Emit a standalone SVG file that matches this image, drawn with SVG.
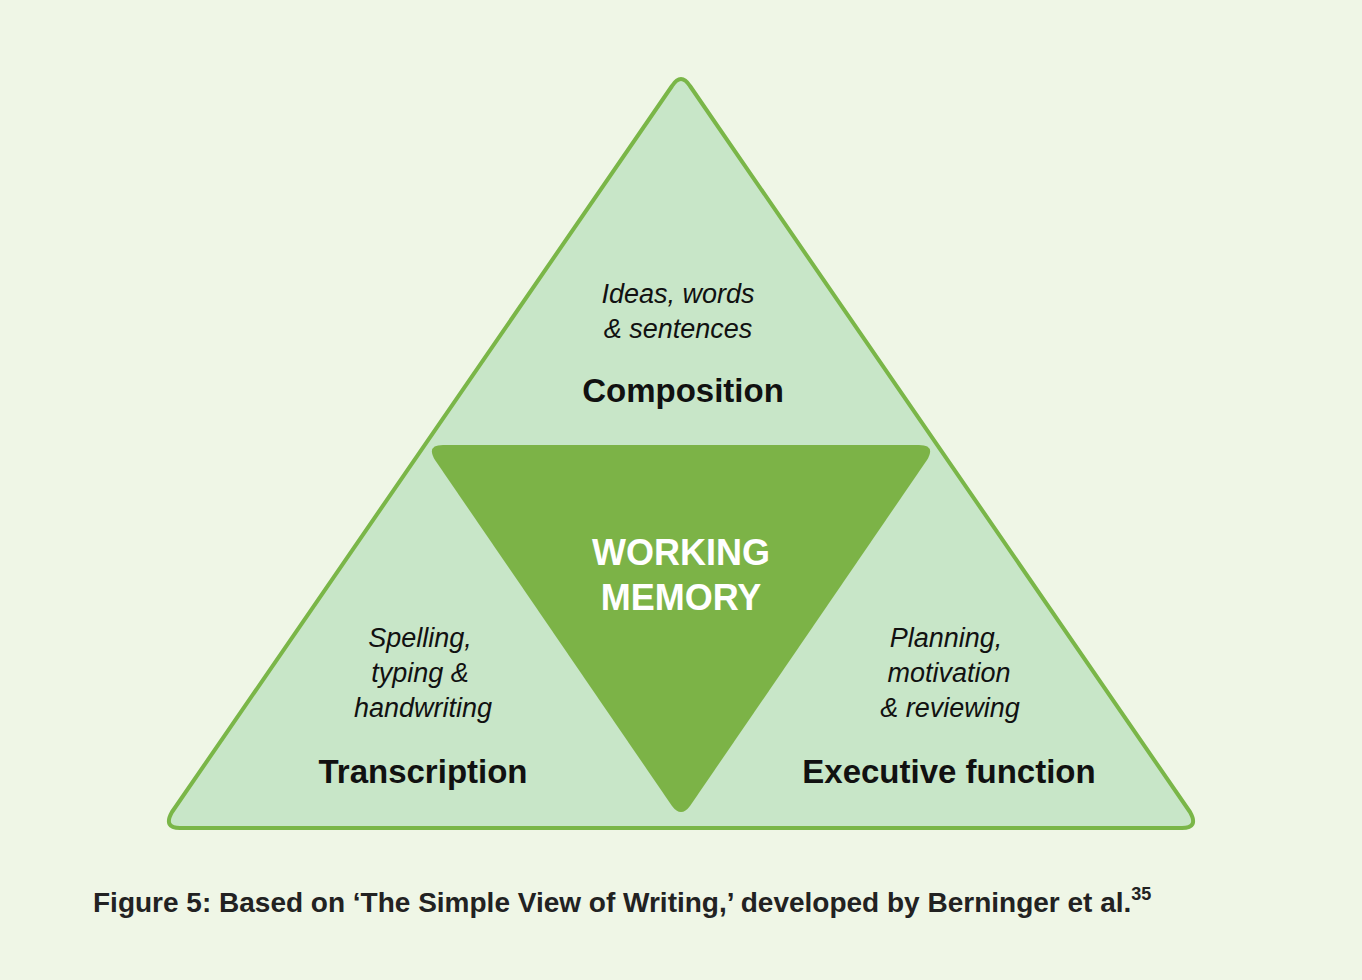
<svg xmlns="http://www.w3.org/2000/svg" width="1362" height="980" viewBox="0 0 1362 980">
<style>
.it{font-family:"Liberation Sans",Arial,sans-serif;font-style:italic;font-size:27px;fill:#111;text-anchor:middle}
.hd{font-family:"Liberation Sans",Arial,sans-serif;font-weight:bold;font-size:33px;fill:#111;text-anchor:middle}
.wm{font-family:"Liberation Sans",Arial,sans-serif;font-weight:bold;font-size:36px;fill:#fff;text-anchor:middle}
</style>
<rect width="1362" height="980" fill="#eff6e6"/>
<g id="outer">
<path d="M672,86 Q681,72 690,86 L1190,812 Q1199,828 1182,828 L180,828 Q163,828 172,812 Z" fill="#c8e6c8" stroke="#7ab648" stroke-width="4" stroke-linejoin="round"/>
</g>
<g id="working-memory">
<path d="M443,445 L919,445 Q936,445 927,460 L690,806 Q681,818 672,806 L435,460 Q426,445 443,445 Z" fill="#7cb347"/>
<text class="wm" x="681" y="565">WORKING</text>
<text class="wm" x="681" y="610">MEMORY</text>
</g>
<g id="composition">
<text class="it" x="678" y="303">Ideas, words</text>
<text class="it" x="678" y="338">&amp;  sentences</text>
<text class="hd" x="683" y="402">Composition</text>
</g>
<g id="transcription">
<text class="it" x="420" y="647">Spelling,</text>
<text class="it" x="420" y="682">typing &amp;</text>
<text class="it" x="423" y="717">handwriting</text>
<text class="hd" x="423" y="783">Transcription</text>
</g>
<g id="executive">
<text class="it" x="946" y="647">Planning,</text>
<text class="it" x="949" y="682">motivation</text>
<text class="it" x="950" y="717">&amp; reviewing</text>
<text class="hd" x="949" y="783">Executive function</text>
</g>
<g id="connectors"/>
<text x="93" y="912" font-family="'Liberation Sans',Arial,sans-serif" font-weight="bold" font-size="28" fill="#222">Figure 5: Based on ‘The Simple View of Writing,’ developed by Berninger et al.<tspan font-size="18" dy="-12">35</tspan></text>
</svg>
